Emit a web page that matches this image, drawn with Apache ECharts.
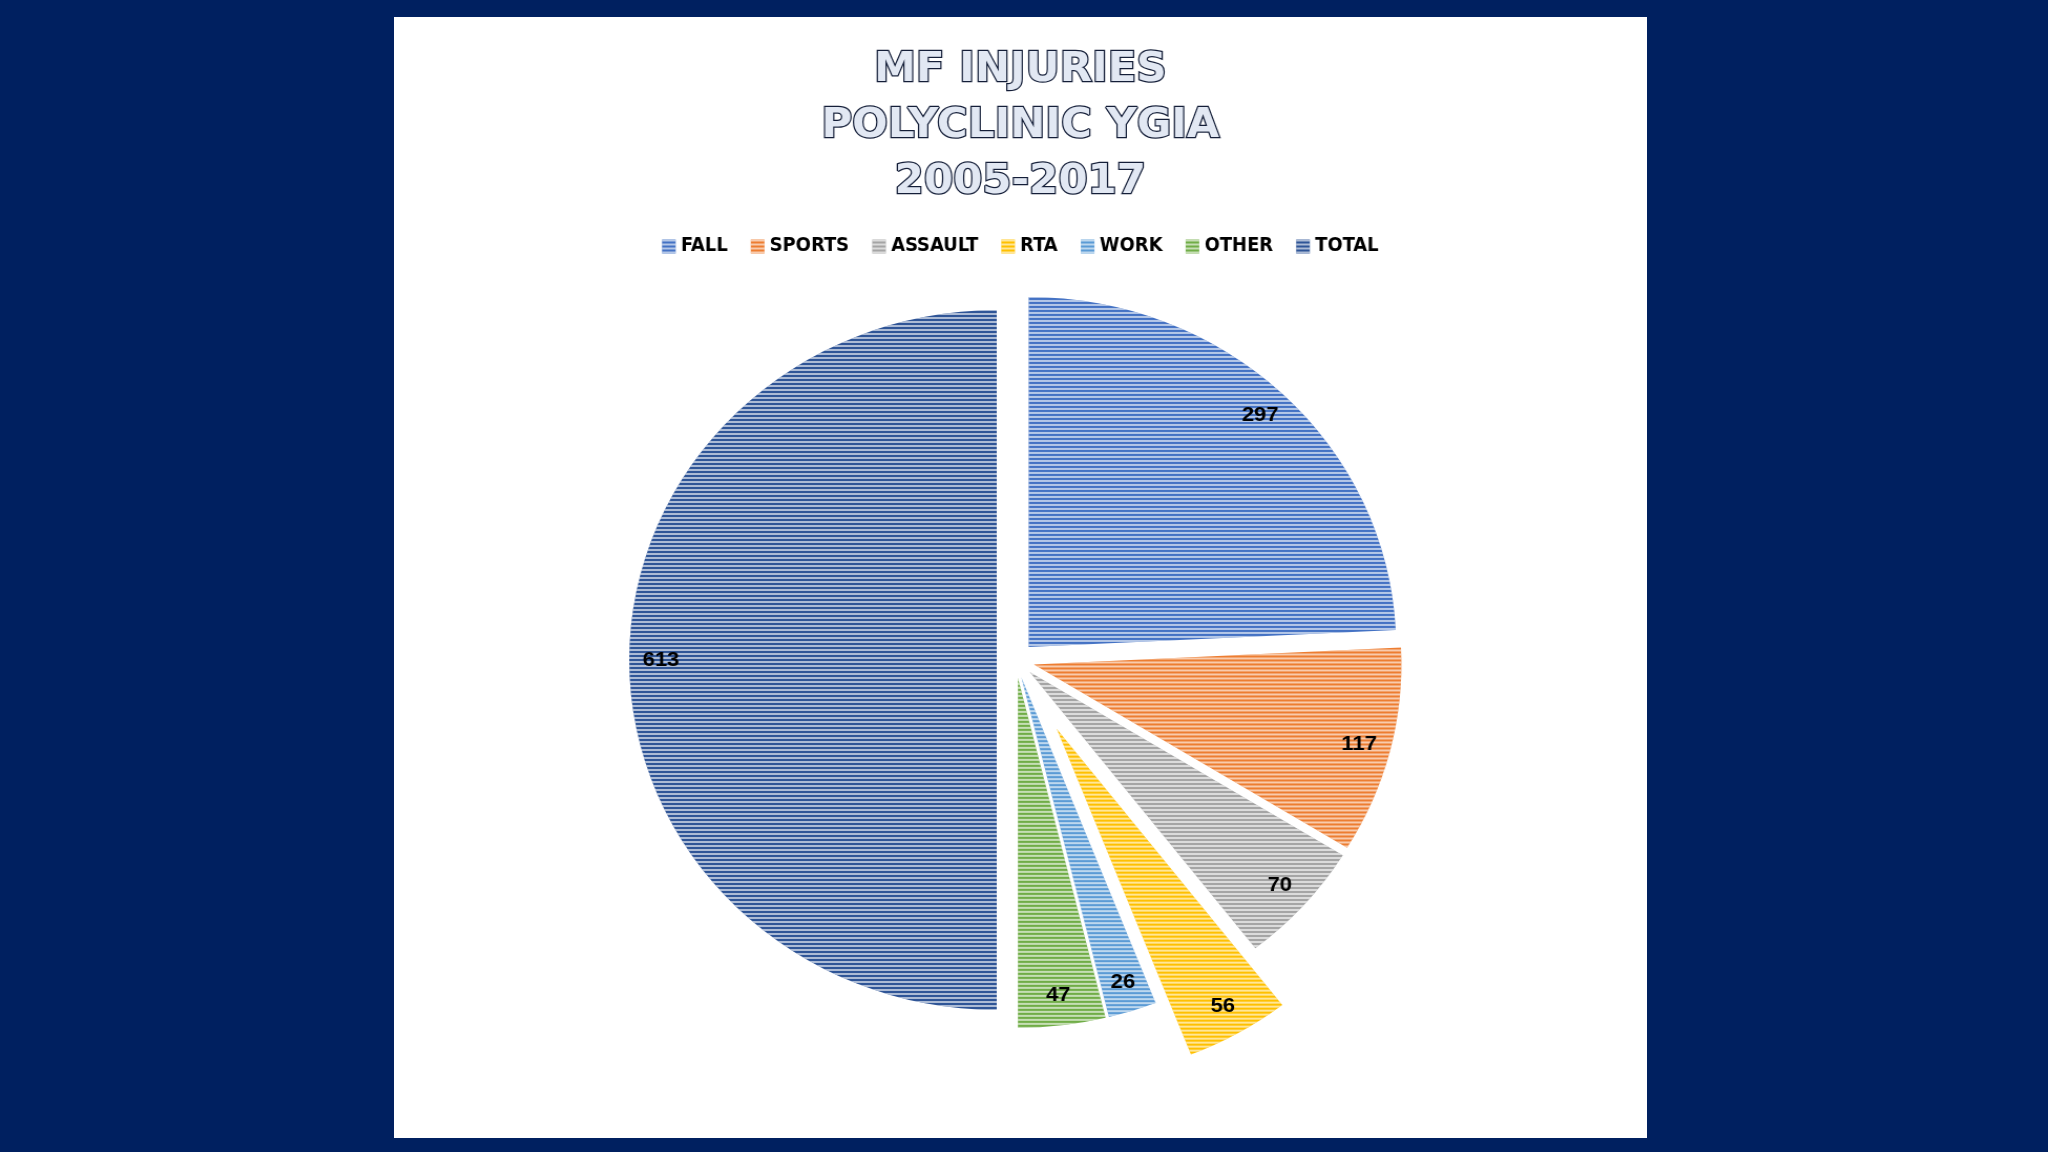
<!DOCTYPE html>
<html lang="en">
<head>
    <meta charset="utf-8">
    <title>MF Injuries</title>
    <script type="text/javascript" src="https://cdn.jsdelivr.net/npm/echarts@6/dist/echarts.min.js"></script>
    <style type="text/css">
        html, body {
            margin: 0;
            padding: 0;
            width: 2048px;
            height: 1152px;
            background-color: #002060;
            overflow: hidden;
        }

        #panel {
            position: absolute;
            left: 394px;
            top: 17px;
            width: 1253px;
            height: 1121px;
            background-color: #ffffff;
            overflow: hidden;
        }

        /* the original slide is stretched a little sideways */
        #main {
            width: 1193px;
            height: 1121px;
            transform: scaleX(1.05);
            transform-origin: 0 0;
        }
    </style>
</head>
<body>
<div id="panel">
    <div id="main"></div>
</div>

<script type="text/javascript">
    // data
    var categories = ["FALL", "SPORTS", "ASSAULT", "RTA", "WORK", "OTHER", "TOTAL"];
    var values = [297, 117, 70, 56, 26, 47, 613];
    var colors = ['#4472C4', '#ED7D31', '#A5A5A5', '#FFC000', '#5B9BD5', '#70AD47', '#2F5597'];
    // RTA is pulled out further than the rest
    var pulledOut = "RTA";

    var pieCenter = [592, 643];
    var pieRadius = 350;
    var offsetNormal = 18;
    var offsetPulled = 79;

    var myChart = echarts.init(document.getElementById('main'));

    var stripes = {
        symbol: 'rect',
        symbolSize: 1,
        dashArrayX: [1, 0],
        dashArrayY: [2, 1.8],
        rotation: 0,
        color: 'rgba(255,255,255,0.6)'
    };

    // slices: show only the ones asked for, the rest stay in place but invisible
    function sliceData(showPulled) {
        var list = [];
        for (var i = 0; i < categories.length; i++) {
            var visible = (categories[i] === pulledOut) === showPulled;
            list.push({
                name: categories[i],
                value: values[i],
                selected: true,
                itemStyle: visible ? {color: colors[i], decal: stripes, opacity: 1} : {opacity: 0}
            });
        }
        return list;
    }

    // labels ride on a thin clear ring near the rim
    function labelData(showPulled) {
        var list = [];
        for (var i = 0; i < categories.length; i++) {
            var visible = (categories[i] === pulledOut) === showPulled;
            list.push({
                name: categories[i],
                value: values[i],
                selected: true,
                itemStyle: {color: 'rgba(0,0,0,0)'},
                label: {show: visible}
            });
        }
        return list;
    }

    var legendData = [];
    for (var i = 0; i < categories.length; i++) {
        legendData.push({
            name: categories[i],
            itemStyle: {color: colors[i], decal: stripes, opacity: 1}
        });
    }

    var labelStyle = {
        show: true,
        position: 'inside',
        formatter: '{c}',
        fontFamily: "'Liberation Sans', Arial, sans-serif",
        fontSize: 21,
        fontWeight: 'bold',
        color: '#000000'
    };

    var pieBase = {
        type: 'pie',
        center: pieCenter,
        startAngle: 90,
        clockwise: true,
        selectedMode: 'multiple',
        avoidLabelOverlap: false,
        labelLine: {show: false},
        emphasis: {disabled: true}
    };

    var option = {
        title: {
            text: "MF INJURIES\nPOLYCLINIC YGIA\n2005-2017",
            left: "center",
            top: 21,
            textStyle: {
                fontFamily: "'DejaVu Sans', sans-serif",
                fontSize: 40,
                fontWeight: 'bold',
                lineHeight: 56,
                color: '#e2e8f3',
                textBorderColor: '#141e38',
                textBorderWidth: 2.5
            }
        },
        legend: {
            top: 220,
            left: 'center',
            icon: 'rect',
            itemWidth: 13,
            itemHeight: 14,
            itemGap: 22,
            padding: 0,
            data: legendData,
            textStyle: {
                fontFamily: "'DejaVu Sans Condensed', 'Liberation Sans Narrow', sans-serif",
                fontSize: 19,
                fontWeight: 'bold',
                color: '#000000'
            }
        },
        series: [
            echarts.util.merge({
                name: 'slices',
                radius: [0, pieRadius],
                selectedOffset: offsetNormal,
                label: {show: false},
                data: sliceData(false)
            }, pieBase),
            echarts.util.merge({
                name: 'pulled slice',
                radius: [0, pieRadius],
                selectedOffset: offsetPulled,
                label: {show: false},
                data: sliceData(true)
            }, pieBase),
            echarts.util.merge({
                name: 'labels',
                radius: [pieRadius * 0.81, pieRadius],
                selectedOffset: offsetNormal,
                silent: true,
                label: labelStyle,
                data: labelData(false)
            }, pieBase),
            echarts.util.merge({
                name: 'pulled label',
                radius: [pieRadius * 0.81, pieRadius],
                selectedOffset: offsetPulled,
                silent: true,
                label: labelStyle,
                data: labelData(true)
            }, pieBase)
        ]
    };

    myChart.setOption(option);
</script>
</body>
</html>
